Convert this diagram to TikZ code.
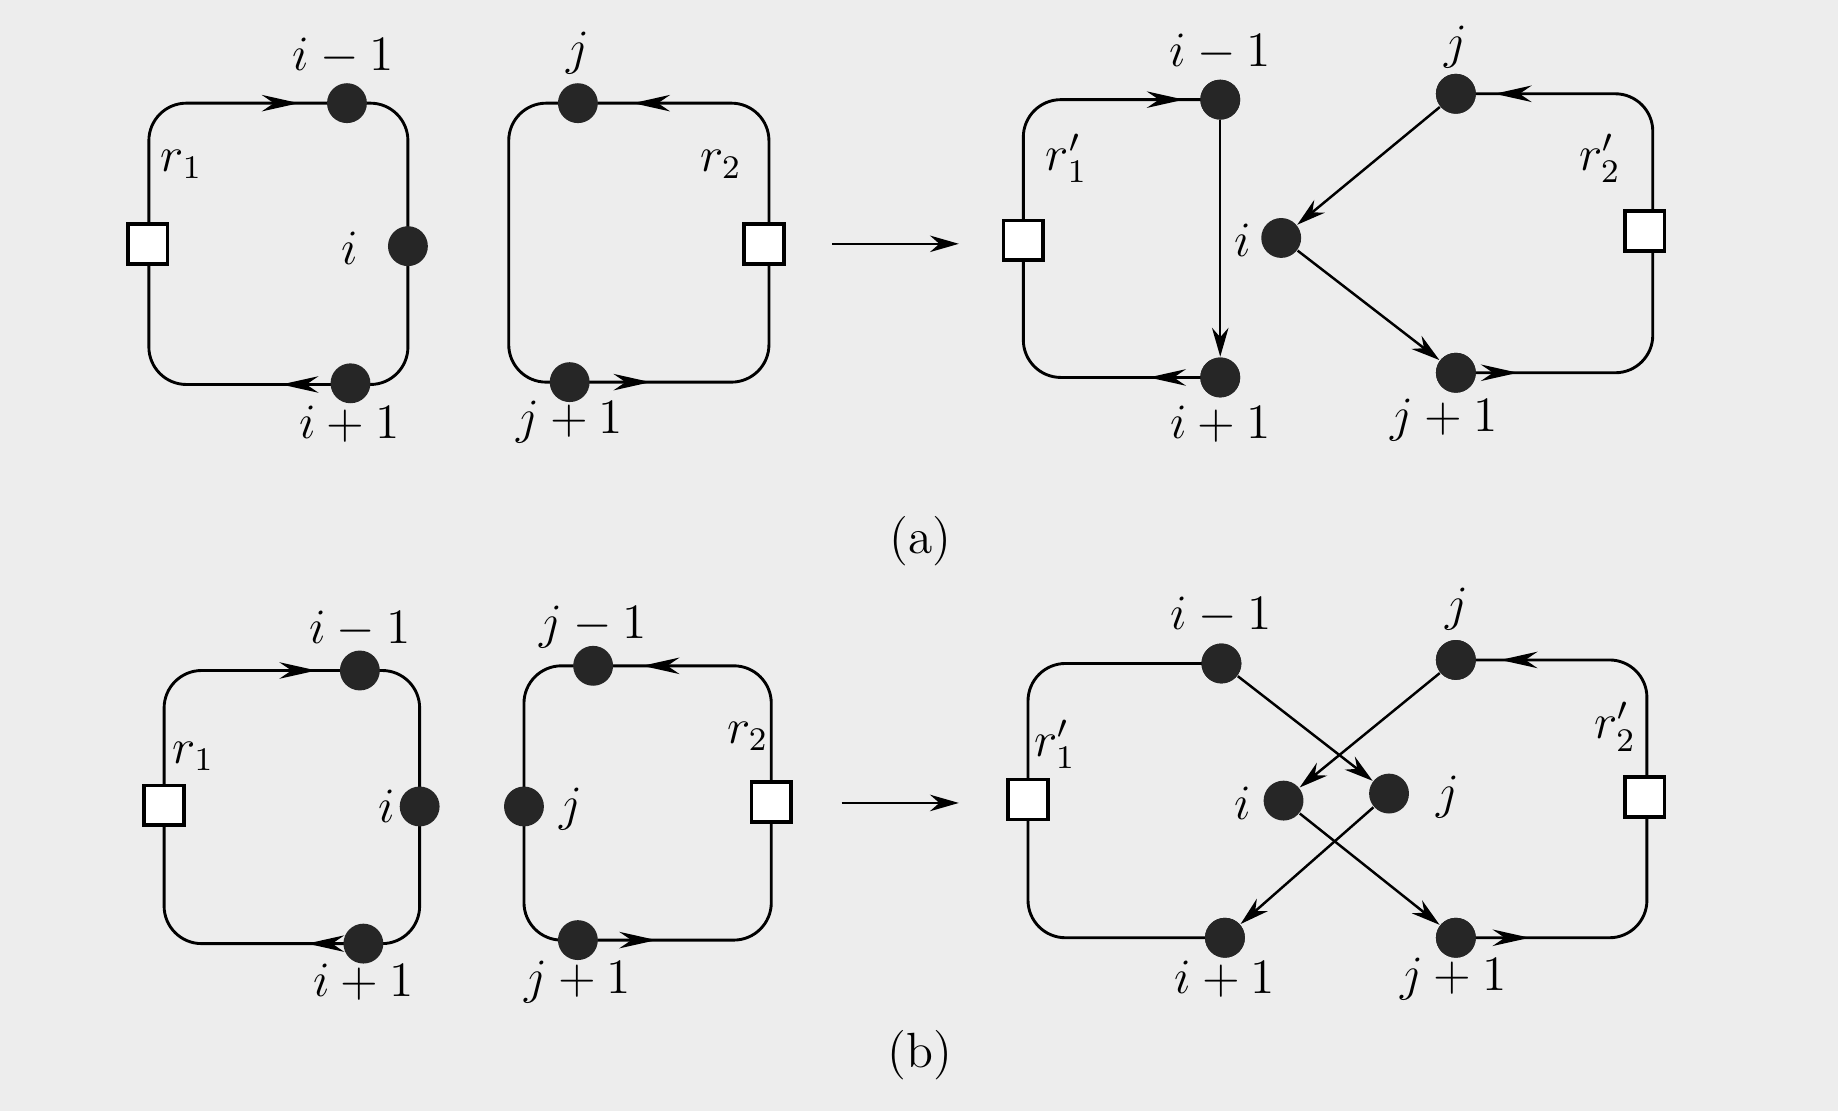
\documentclass[tikz,border=0pt]{standalone}
\usetikzlibrary{arrows.meta}
\begin{document}
\begin{tikzpicture}[x=0.01cm,y=-0.01cm,
  dot/.style={circle,fill=black!85,minimum size=0.34cm,inner sep=0},
  sq/.style={draw,fill=white,minimum size=0.34cm,inner sep=0,line width=0.9pt},
  loop/.style={draw,line width=0.7pt,rounded corners=0.32cm},
  lab/.style={font=\large},
  ar/.style={-{Stealth[length=7pt,width=4pt]},line width=0.6pt},
  tip/.style={-{Stealth[length=9pt,width=4pt]},line width=0.6pt}]
\fill[black!7] (0,0) rectangle (1568,948);
% ---------- (a) left
\draw[loop] (127,88) rectangle (348,328);
\draw[tip] (235,88) -- (255,88);
\draw[tip] (260,328) -- (240,328);
\node[sq] (a1s) at (126,208) {};
\node[dot] (a1u) at (296,88) {};
\node[dot] (a1i) at (348,210) {};
\node[dot] (a1d) at (299,327) {};
\node[lab] at (155,140) {$r_1$};
\node[lab] at (298,212) {$i$};
\node[lab] at (293,48) {$i-1$};
\node[lab] at (298,362) {$i+1$};
\draw[loop] (434,88) rectangle (656,326);
\draw[tip] (560,88) -- (540,88);
\draw[tip] (535,326) -- (555,326);
\node[sq] (a2s) at (652,208) {};
\node[dot] (a2u) at (493,88) {};
\node[dot] (a2d) at (486,326) {};
\node[lab] at (615,140) {$r_2$};
\node[lab] at (493,45) {$j$};
\node[lab] at (486,360) {$j+1$};
\coordinate (aa1) at (710,208); \coordinate (aa2) at (818,208);
\draw[ar] (aa1) -- (aa2);
% ---------- (a) right
\node[dot] (b1u) at (1041,85) {};
\node[dot] (b1d) at (1041,322) {};
\node[dot] (b1i) at (1093,203) {};
\node[dot] (b2u) at (1242,80) {};
\node[dot] (b2d) at (1242,318) {};
\draw[loop] (b1u.center) -- (873,85) -- (873,322) -- (b1d.center);
\draw[loop] (b2u.center) -- (1410,80) -- (1410,318) -- (b2d.center);
\draw[tip] (990,85) -- (1010,85);
\draw[tip] (1000,322) -- (980,322);
\draw[tip] (1295,80) -- (1275,80);
\draw[tip] (1275,318) -- (1295,318);
\draw[ar] (b1u) -- (b1d);
\draw[ar] (b2u) -- (b1i);
\draw[ar] (b1i) -- (b2d);
\node[dot] at (b1u) {}; \node[dot] at (b1d) {}; \node[dot] at (b2u) {}; \node[dot] at (b2d) {};
\node[sq] (b1s) at (873,205) {};
\node[sq] (b2s) at (1403,197) {};
\node[lab] at (910,135) {$r'_1$};
\node[lab] at (1365,135) {$r'_2$};
\node[lab] at (1041,45) {$i-1$};
\node[lab] at (1041,362) {$i+1$};
\node[lab] at (1060,205) {$i$};
\node[lab] at (1242,40) {$j$};
\node[lab] at (1232,358) {$j+1$};
\node[lab] at (785,462) {(a)};
% ---------- (b) left
\draw[loop] (140,572) rectangle (358,805);
\draw[tip] (250,572) -- (270,572);
\draw[tip] (282,805) -- (262,805);
\node[sq] (c1s) at (140,687) {};
\node[dot] (c1u) at (307,572) {};
\node[dot] (c1i) at (358,688) {};
\node[dot] (c1d) at (310,805) {};
\node[lab] at (165,645) {$r_1$};
\node[lab] at (330,688) {$i$};
\node[lab] at (307,537) {$i-1$};
\node[lab] at (310,838) {$i+1$};
\draw[loop] (447,568) rectangle (658,802);
\draw[tip] (568,568) -- (548,568);
\draw[tip] (540,802) -- (560,802);
\node[sq] (c2s) at (658,684) {};
\node[dot] (c2u) at (506,568) {};
\node[dot] (c2j) at (447,688) {};
\node[dot] (c2d) at (493,802) {};
\node[lab] at (638,628) {$r_2$};
\node[lab] at (487,690) {$j$};
\node[lab] at (506,535) {$j-1$};
\node[lab] at (493,838) {$j+1$};
\coordinate (bb1) at (718,685); \coordinate (bb2) at (818,685);
\draw[ar] (bb1) -- (bb2);
% ---------- (b) right
\node[dot] (d1u) at (1042,566) {};
\node[dot] (d1d) at (1045,800) {};
\node[dot] (d1i) at (1095,683) {};
\node[dot] (d1j) at (1185,677) {};
\node[dot] (d2u) at (1242,563) {};
\node[dot] (d2d) at (1242,800) {};
\draw[loop] (d1u.center) -- (877,566) -- (877,800) -- (d1d.center);
\draw[loop] (d2u.center) -- (1405,563) -- (1405,800) -- (d2d.center);
\draw[tip] (1300,563) -- (1280,563);
\draw[tip] (1285,800) -- (1305,800);
\draw[ar] (d1u) -- (d1j);
\draw[ar] (d1j) -- (d1d);
\draw[ar] (d2u) -- (d1i);
\draw[ar] (d1i) -- (d2d);
\node[dot] at (d1u) {}; \node[dot] at (d1d) {}; \node[dot] at (d2u) {}; \node[dot] at (d2d) {};
\node[sq] (d1s) at (877,682) {};
\node[sq] (d2s) at (1403,680) {};
\node[lab] at (900,635) {$r'_1$};
\node[lab] at (1378,620) {$r'_2$};
\node[lab] at (1060,685) {$i$};
\node[lab] at (1235,680) {$j$};
\node[lab] at (1042,525) {$i-1$};
\node[lab] at (1045,835) {$i+1$};
\node[lab] at (1243,520) {$j$};
\node[lab] at (1240,835) {$j+1$};
\node[lab] at (785,900) {(b)};
\end{tikzpicture}
\end{document}
